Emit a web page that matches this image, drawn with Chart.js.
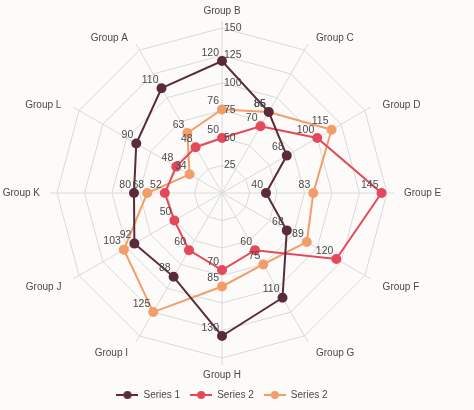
<!DOCTYPE html>
<html>
<head>
<meta charset="utf-8">
<script src="https://cdn.jsdelivr.net/npm/chart.js@4"></script>
<style>
  html, body { margin: 0; padding: 0; background: #fcfbf9; }
  #wrap { width: 474px; height: 410px; }
</style>
</head>
<body>
<div id="wrap"><canvas id="radar"></canvas></div>
<script>
// Radar data
const groups = ['Group A', 'Group B', 'Group C', 'Group D', 'Group E', 'Group F',
  'Group G', 'Group H', 'Group I', 'Group J', 'Group K', 'Group L'];
const series1 = [110, 120, 85, 68, 40, 68, 110, 130, 88, 92, 80, 90];
const series2 = [48, 50, 70, 100, 145, 120, 60, 70, 60, 50, 52, 48];
const series3 = [63, 76, 85, 115, 83, 89, 75, 85, 125, 103, 68, 34];
const seriesNames = ['Series 1', 'Series 2', 'Series 2'];
const tickValues = [25, 50, 75, 100, 125, 150];

const colors = ['#5b2b3c', '#e4495b', '#f39d6a'];
const textColor = '#4a4a4a';
const gridColor = '#dadada';
const fontFamily = '"Liberation Sans", Arial, sans-serif';

// little line+dot icon for the legend
function legendIcon(color) {
  const c = document.createElement('canvas');
  c.width = 22; c.height = 10;
  const g = c.getContext('2d');
  g.strokeStyle = color;
  g.lineWidth = 2;
  g.beginPath(); g.moveTo(0, 5); g.lineTo(22, 5); g.stroke();
  g.fillStyle = color;
  g.beginPath(); g.arc(11, 5, 4, 0, Math.PI * 2); g.fill();
  return c;
}

// spokes run a bit past the outer ring, labels sit at their ends
const spokes = {
  id: 'spokes',
  beforeDatasetsDraw(chart) {
    const s = chart.scales.r;
    const ctx = chart.ctx;
    ctx.save();
    ctx.strokeStyle = gridColor;
    ctx.lineWidth = 1;
    groups.forEach((g, i) => {
      const p = s.getPointPosition(i, s.drawingArea + 7);
      ctx.beginPath();
      ctx.moveTo(s.xCenter, s.yCenter);
      ctx.lineTo(p.x, p.y);
      ctx.stroke();
    });
    ctx.font = '10px ' + fontFamily;
    ctx.fillStyle = textColor;
    ctx.textBaseline = 'middle';
    groups.forEach((g, i) => {
      const p = s.getPointPosition(i, s.drawingArea + 17);
      const dx = p.x - s.xCenter;
      ctx.textAlign = Math.abs(dx) < 1 ? 'center' : (dx > 0 ? 'left' : 'right');
      const dy = p.y - s.yCenter;
      const nudge = Math.abs(dx) < 1 ? 0 : (Math.abs(dy) < 1 ? 0 : 3);
      ctx.fillText(g, p.x + (dx > 1 ? nudge : dx < -1 ? -nudge : 0), p.y + nudge);
    });
    ctx.restore();
  }
};

// tick labels to the right of the vertical axis
const tickLabels = {
  id: 'tickLabels',
  afterDatasetsDraw(chart) {
    const s = chart.scales.r;
    const ctx = chart.ctx;
    ctx.save();
    ctx.font = '10.5px ' + fontFamily;
    ctx.fillStyle = textColor;
    ctx.textAlign = 'left';
    ctx.textBaseline = 'middle';
    tickValues.forEach(v => {
      const d = s.getDistanceFromCenterForValue(v);
      ctx.fillText(String(v), s.xCenter + 2, s.yCenter - d);
    });
    ctx.restore();
  }
};

// value labels next to every point
const valueLabels = {
  id: 'valueLabels',
  afterDatasetsDraw(chart) {
    const ctx = chart.ctx;
    ctx.save();
    ctx.font = '10.5px ' + fontFamily;
    ctx.fillStyle = textColor;
    ctx.textAlign = 'right';
    ctx.textBaseline = 'bottom';
    chart.data.datasets.forEach((ds, i) => {
      chart.getDatasetMeta(i).data.forEach((pt, j) => {
        ctx.fillText(String(ds.data[j]), pt.x - 3, pt.y - 3);
      });
    });
    ctx.restore();
  }
};

const bgFill = {
  id: 'bgFill',
  beforeDraw(chart) {
    const ctx = chart.ctx;
    ctx.save();
    ctx.fillStyle = '#fcfbf9';
    ctx.fillRect(0, 0, chart.width, chart.height);
    ctx.restore();
  }
};

const datasets = [series1, series2, series3].map((d, i) => ({
  label: seriesNames[i],
  data: d,
  borderColor: colors[i],
  backgroundColor: colors[i],
  pointBackgroundColor: colors[i],
  pointBorderColor: colors[i],
  pointStyle: 'circle',
  pointRadius: 4,
  pointHoverRadius: 4,
  borderWidth: 2,
  fill: false
}));

Chart.defaults.font.family = fontFamily;
Chart.defaults.color = textColor;

new Chart(document.getElementById('radar'), {
  type: 'radar',
  data: { labels: groups, datasets },
  options: {
    responsive: true,
    maintainAspectRatio: false,
    animation: false,
    layout: { padding: { left: 57, right: 87, top: 7, bottom: 0 } },
    scales: {
      r: {
        min: 0,
        max: 150,
        startAngle: -30,
        ticks: { stepSize: 25, display: false },
        grid: { color: gridColor, lineWidth: 1 },
        angleLines: { display: false },
        pointLabels: { display: false }
      }
    },
    plugins: {
      legend: {
        position: 'bottom',
        labels: {
          usePointStyle: true,
          pointStyleWidth: 22,
          color: textColor,
          font: { size: 10 },
          padding: 10,
          generateLabels(chart) {
            return chart.data.datasets.map((ds, i) => ({
              text: ds.label,
              fillStyle: colors[i],
              strokeStyle: colors[i],
              pointStyle: legendIcon(colors[i]),
              datasetIndex: i,
              hidden: false,
              fontColor: textColor
            }));
          }
        }
      },
      tooltip: { enabled: false }
    }
  },
  plugins: [bgFill, spokes, tickLabels, valueLabels]
});
</script>
</body>
</html>
